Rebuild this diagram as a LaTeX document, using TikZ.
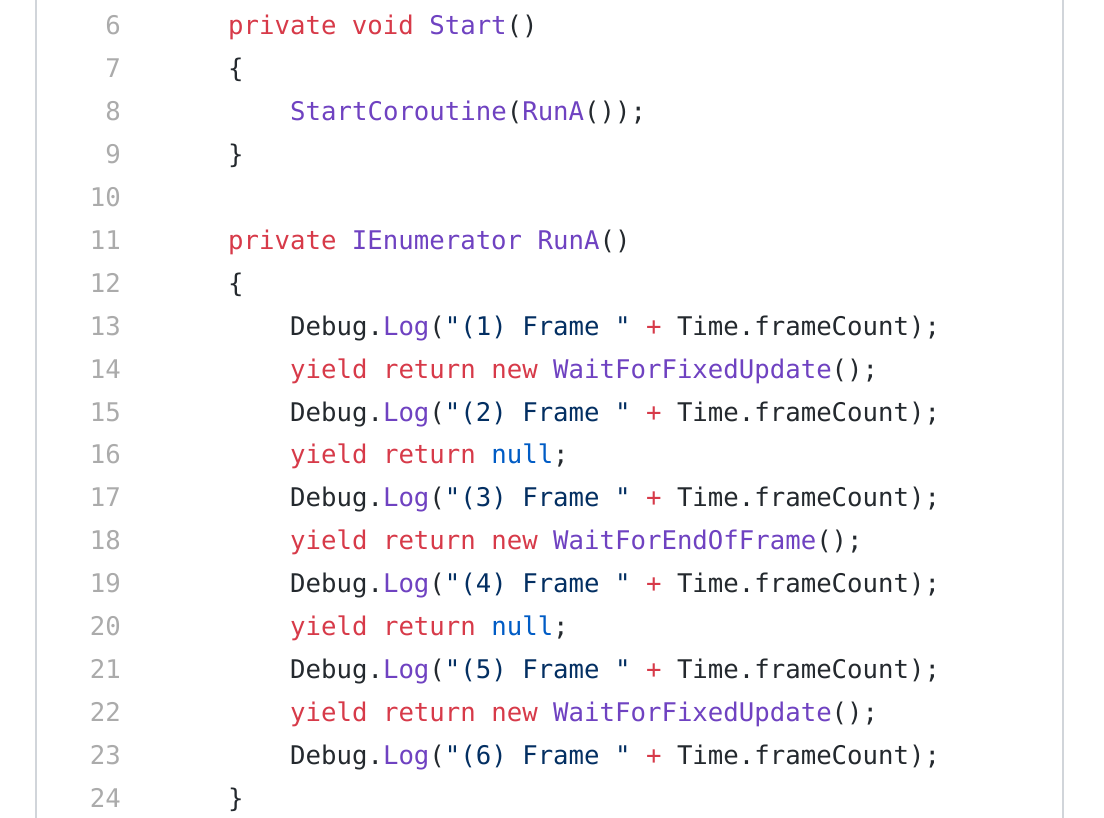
\documentclass[tikz,border=0pt]{standalone}
\usepackage{fontspec}
\newfontfamily\codefont{DejaVu Sans Mono}
\definecolor{kw}{HTML}{D73A49}
\definecolor{fn}{HTML}{6F42C1}
\definecolor{str}{HTML}{032F62}
\definecolor{lit}{HTML}{005CC5}
\definecolor{txt}{HTML}{24292E}
\definecolor{num}{HTML}{ABABAB}
\definecolor{rule}{HTML}{D1D5DA}
\newcommand{\K}[1]{\textcolor{kw}{#1}}
\newcommand{\F}[1]{\textcolor{fn}{#1}}
\newcommand{\Sq}[1]{\textcolor{str}{#1}}
\newcommand{\Lt}[1]{\textcolor{lit}{#1}}
\begin{document}
\begin{tikzpicture}[x=1pt,y=-1pt,
  codeline/.style={anchor=base west,inner sep=0pt,font=\codefont\fontsize{25.7}{30}\selectfont,text=txt},
  lineno/.style={anchor=base east,inner sep=0pt,font=\codefont\fontsize{25.7}{30}\selectfont,text=num},
  border/.style={draw=rule,line width=2.2pt}]
\useasboundingbox (0,0) rectangle (1104,818);
\fill[white] (0,0) rectangle (1104,818);
\coordinate (lt) at (36,0); \coordinate (lb) at (36,818);
\coordinate (rt) at (1063,0); \coordinate (rb) at (1063,818);
\draw[border] (lt) -- (lb);
\draw[border] (rt) -- (rb);
\def\yy#1{35+42.9*(#1-6)}
\foreach \n in {6,...,24} {
  \node[lineno] (n\n) at (121,{\yy{\n}}) {\n};
}
\node[codeline] (c6) at (228,{\yy{6}}) {\K{private void} \F{Start}()};
\node[codeline] (c7) at (228,{\yy{7}}) {\{};
\node[codeline] (c8) at (290,{\yy{8}}) {\F{StartCoroutine}(\F{RunA}());};
\node[codeline] (c9) at (228,{\yy{9}}) {\}};
\node[codeline] (c11) at (228,{\yy{11}}) {\K{private} \F{IEnumerator RunA}()};
\node[codeline] (c12) at (228,{\yy{12}}) {\{};
\node[codeline] (c13) at (290,{\yy{13}}) {Debug.\F{Log}(\Sq{"(1) Frame "} \K{+} Time.frameCount);};
\node[codeline] (c14) at (290,{\yy{14}}) {\K{yield return new} \F{WaitForFixedUpdate}();};
\node[codeline] (c15) at (290,{\yy{15}}) {Debug.\F{Log}(\Sq{"(2) Frame "} \K{+} Time.frameCount);};
\node[codeline] (c16) at (290,{\yy{16}}) {\K{yield return} \Lt{null};};
\node[codeline] (c17) at (290,{\yy{17}}) {Debug.\F{Log}(\Sq{"(3) Frame "} \K{+} Time.frameCount);};
\node[codeline] (c18) at (290,{\yy{18}}) {\K{yield return new} \F{WaitForEndOfFrame}();};
\node[codeline] (c19) at (290,{\yy{19}}) {Debug.\F{Log}(\Sq{"(4) Frame "} \K{+} Time.frameCount);};
\node[codeline] (c20) at (290,{\yy{20}}) {\K{yield return} \Lt{null};};
\node[codeline] (c21) at (290,{\yy{21}}) {Debug.\F{Log}(\Sq{"(5) Frame "} \K{+} Time.frameCount);};
\node[codeline] (c22) at (290,{\yy{22}}) {\K{yield return new} \F{WaitForFixedUpdate}();};
\node[codeline] (c23) at (290,{\yy{23}}) {Debug.\F{Log}(\Sq{"(6) Frame "} \K{+} Time.frameCount);};
\node[codeline] (c24) at (228,{\yy{24}}) {\}};
\end{tikzpicture}
\end{document}
